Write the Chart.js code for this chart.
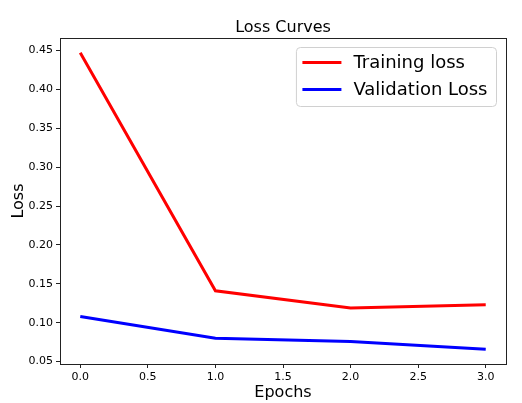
<!DOCTYPE html>
<html>
<head>
<meta charset="utf-8">
<script src="https://cdn.jsdelivr.net/npm/chart.js@4/dist/chart.umd.min.js"></script>
<style>
	body { margin: 0; background: #fff; }
	canvas { display: block; }
</style>
</head>
<body>
<canvas id="loss" width="522" height="403"></canvas>
<script>
const epochs = [0, 1, 2, 3]
const trainingLoss = [0.447, 0.141, 0.119, 0.123]
const validationLoss = [0.108, 0.080, 0.076, 0.066]
const xTicks = [0.0, 0.5, 1.0, 1.5, 2.0, 2.5, 3.0]
const yTicks = [0.05, 0.10, 0.15, 0.20, 0.25, 0.30, 0.35, 0.40, 0.45]

const font = 'DejaVu Sans'

// matplotlib style 5% margins
const allY = trainingLoss.concat(validationLoss)
const yLo = Math.min(...allY), yHi = Math.max(...allY)
const xLo = Math.min(...epochs), xHi = Math.max(...epochs)
const ym = (yHi - yLo) * 0.05, xm = (xHi - xLo) * 0.05

const toPoints = (ys) => epochs.map((e, i) => ({ x: e, y: ys[i] }))

const frame = {
	id: 'frame',
	afterDatasetsDraw(chart) {
		const { ctx, chartArea: a } = chart
		ctx.save()
		ctx.strokeStyle = '#222'
		ctx.lineWidth = 1
		ctx.strokeRect(a.left + 0.5, a.top + 0.5, a.right - a.left, a.bottom - a.top)

		// title
		ctx.fillStyle = '#000'
		ctx.font = '16px "' + font + '"'
		ctx.textAlign = 'center'
		ctx.textBaseline = 'alphabetic'
		ctx.fillText('Loss Curves', (a.left + a.right) / 2, 32)

		// legend
		ctx.font = '18px "' + font + '"'
		const sets = chart.data.datasets
		const textW = Math.max(...sets.map(d => ctx.measureText(d.label).width))
		const w = 6 + 39 + 12 + textW + 9
		const h = 59
		const x0 = a.right - 9.5 - w
		const y0 = a.top + 9.5
		ctx.beginPath()
		ctx.roundRect(x0, y0, w, h, 4)
		ctx.fillStyle = 'rgba(255,255,255,0.8)'
		ctx.fill()
		ctx.strokeStyle = '#d0d0d0'
		ctx.stroke()
		ctx.textAlign = 'left'
		ctx.textBaseline = 'middle'
		sets.forEach((d, i) => {
			const y = y0 + 15 + i * 27
			ctx.beginPath()
			ctx.moveTo(x0 + 6, y)
			ctx.lineTo(x0 + 45, y)
			ctx.strokeStyle = d.borderColor
			ctx.lineWidth = 3
			ctx.stroke()
			ctx.fillStyle = '#000'
			ctx.fillText(d.label, x0 + 57, y + 1)
		})
		ctx.restore()
	}
}

const ctx = document.getElementById('loss').getContext('2d')

const chart = new Chart(ctx, {
	type: 'line',
	data: {
		datasets: [
			{
				label: 'Training loss',
				data: toPoints(trainingLoss),
				borderColor: '#ff0000',
				borderWidth: 3,
				pointRadius: 0,
				tension: 0
			},
			{
				label: 'Validation Loss',
				data: toPoints(validationLoss),
				borderColor: '#0000ff',
				borderWidth: 3,
				pointRadius: 0,
				tension: 0
			}
		]
	},
	options: {
		responsive: false,
		animation: false,
		devicePixelRatio: 1,
		layout: { padding: { top: 38, right: 16, left: 0, bottom: 0 } },
		plugins: {
			legend: { display: false },
			title: { display: false },
			tooltip: { enabled: false }
		},
		scales: {
			x: {
				type: 'linear',
				min: xLo - xm,
				max: xHi + xm,
				afterBuildTicks: (s) => { s.ticks = xTicks.map(v => ({ value: v })) },
				afterFit: (s) => { s.height = 39 },
				ticks: {
					callback: (v) => v.toFixed(1),
					font: { family: font, size: 11 },
					color: '#000',
					padding: 3,
					maxRotation: 0,
					autoSkip: false
				},
				grid: { drawOnChartArea: false, drawTicks: true, tickLength: 4, color: '#222' },
				border: { display: false },
				title: {
					display: true,
					text: 'Epochs',
					font: { family: font, size: 16 },
					color: '#000',
					padding: { top: 0, bottom: 1 }
				}
			},
			y: {
				type: 'linear',
				min: yLo - ym,
				max: yHi + ym,
				afterBuildTicks: (s) => { s.ticks = yTicks.map(v => ({ value: v })) },
				afterFit: (s) => { s.width = 60 },
				ticks: {
					callback: (v) => v.toFixed(2),
					font: { family: font, size: 11 },
					color: '#000',
					padding: 3,
					autoSkip: false
				},
				grid: { drawOnChartArea: false, drawTicks: true, tickLength: 4, color: '#222' },
				border: { display: false },
				title: {
					display: true,
					text: 'Loss',
					font: { family: font, size: 16 },
					color: '#000',
					padding: { top: 9, bottom: 0 }
				}
			}
		}
	},
	plugins: [frame]
})
</script>
</body>
</html>
